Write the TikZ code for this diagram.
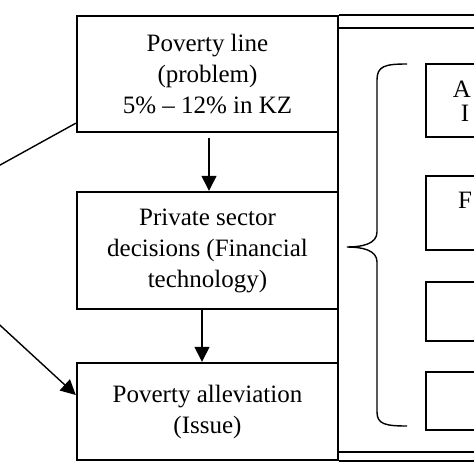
\documentclass[tikz,border=0pt]{standalone}
\usepackage{fontspec}
\setmainfont{Liberation Serif}
\usetikzlibrary{arrows.meta}

\begin{document}
\begin{tikzpicture}[x=1pt,y=-1pt,
    box/.style={draw,line width=2.4pt,minimum width=261pt,align=center,
                inner sep=0pt,font=\fontsize{25}{31}\selectfont},
    sidebox/.style={draw,line width=2.4pt,minimum width=128pt},
    letter/.style={font=\fontsize{25}{31}\selectfont,inner sep=0pt},
    stream/.style={-{Triangle[length=15pt,width=15pt]},line width=1.4pt}]
    \useasboundingbox (0,0) rectangle (474,474);
    \clip (0,0) rectangle (474,474);

    %left column
    \node [box,minimum height=116pt] (line) at (207.5,74)
          {Poverty line\\(problem)\\5\% -- 12\% in KZ};
    \node [box,minimum height=117pt] (private) at (207.5,250.5)
          {Private sector\\decisions (Financial\\technology)};
    \node [box,minimum height=97pt] (alleviation) at (207.5,411.5)
          {Poverty alleviation\\(Issue)};

    \draw [stream] ([xshift=1.5pt,yshift=-5pt]line.south) -- ([xshift=1.5pt]private.north);
    \draw [stream] ([xshift=-5.5pt]private.south) -- ([xshift=-5.5pt]alleviation.north);

    %lines coming in from the left
    \coordinate (in1) at (-10,170.6);
    \coordinate (in2) at (-10,316);
    \draw [line width=1.4pt] ([yshift=10pt]line.south west) -- (in1);
    \draw [stream] (in2) -- ([yshift=16.5pt]alleviation.west);

    %frame
    \draw [line width=2.4pt] (line.north east) -- ++(200,0);
    \draw [line width=2.4pt] (alleviation.south east) -- ++(200,0);
    \draw [line width=2.4pt] (560,28) -- (338,28) -- (338,452) -- (560,452);

    %brace
    \draw [line width=1.4pt] (407,64) .. controls (385,64) and (377,66) .. (377,80)
          -- (377,232) .. controls (377,244) and (362,247) .. (347,247)
          .. controls (362,247) and (377,250) .. (377,262)
          -- (377,412) .. controls (377,424) and (385,426) .. (407,426);

    %right column
    \node [sidebox,minimum height=73pt] (first) at (490,100.5) {};
    \node [sidebox,minimum height=74pt] (second) at (490,213) {};
    \node [sidebox,minimum height=59pt] (third) at (490,311.5) {};
    \node [sidebox,minimum height=58pt] (fourth) at (490,401) {};
    \node [letter] (a) at (462,89) {A};
    \node [letter] (i) at (465,113) {I};
    \node [letter] (f) at (465,200) {F};
\end{tikzpicture}
\end{document}
